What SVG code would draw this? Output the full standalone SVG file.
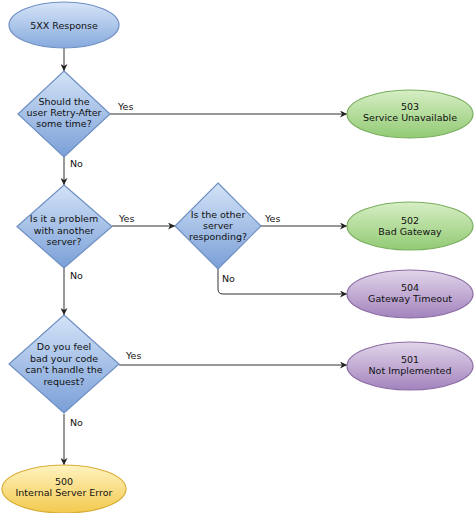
<svg xmlns="http://www.w3.org/2000/svg" width="474" height="513" viewBox="0 0 474 513">
<defs>
<linearGradient id="gBlue" x1="0" y1="0" x2="0" y2="1"><stop offset="0" stop-color="#d6e5f8"/><stop offset="1" stop-color="#86a9dc"/></linearGradient>
<linearGradient id="gDia" x1="0" y1="0" x2="0" y2="1"><stop offset="0" stop-color="#d3e3f7"/><stop offset="1" stop-color="#7a9fd7"/></linearGradient>
<linearGradient id="gGreen" x1="0" y1="0" x2="0" y2="1"><stop offset="0" stop-color="#d6eec4"/><stop offset="1" stop-color="#92ca74"/></linearGradient>
<linearGradient id="gPurple" x1="0" y1="0" x2="0" y2="1"><stop offset="0" stop-color="#e2d5ea"/><stop offset="1" stop-color="#a283bd"/></linearGradient>
<linearGradient id="gYellow" x1="0" y1="0" x2="0" y2="1"><stop offset="0" stop-color="#fff3c0"/><stop offset="1" stop-color="#f3c94e"/></linearGradient>
<marker id="arr" viewBox="0 0 10 10" refX="10" refY="5" markerWidth="7" markerHeight="7" markerUnits="userSpaceOnUse" orient="auto"><path d="M0,0 L10,5 L0,10 L3,5 z" fill="#222"/></marker>
<style>
text{font-family:"DejaVu Sans","Noto Sans",sans-serif;font-size:9.5px;fill:#111;text-anchor:middle}
.lbl{text-anchor:start}
.blue{fill:url(#gBlue);stroke:#6f8fc3;stroke-width:1.2}
.dia{fill:url(#gDia);stroke:#6f8fc3;stroke-width:1.2}
.green{fill:url(#gGreen);stroke:#7bae5f;stroke-width:1.2}
.purple{fill:url(#gPurple);stroke:#8c6ca3;stroke-width:1.2}
.yellow{fill:url(#gYellow);stroke:#d8ae38;stroke-width:1.2}
.edge{fill:none;stroke:#333;stroke-width:1;marker-end:url(#arr)}
</style>
</defs>

<g id="connectors">
<path class="edge" d="M64,48 L64,71"/>
<path class="edge" d="M64,157 L64,185"/>
<path class="edge" d="M64,268 L64,315"/>
<path class="edge" d="M64,414 L64,465"/>
<path class="edge" d="M110,114 L347,114"/>
<path class="edge" d="M112,226 L175,226"/>
<path class="edge" d="M261,226 L347,226"/>
<path class="edge" d="M218,269 L218,289 Q218,294 223,294 L347,294"/>
<path class="edge" d="M119,365 L347,365"/>
<text class="lbl" x="118" y="110">Yes</text>
<text class="lbl" x="70" y="167">No</text>
<text class="lbl" x="119" y="222">Yes</text>
<text class="lbl" x="70" y="279">No</text>
<text class="lbl" x="265" y="222">Yes</text>
<text class="lbl" x="222" y="282">No</text>
<text class="lbl" x="126" y="359">Yes</text>
<text class="lbl" x="70" y="426">No</text>
</g>

<g id="start">
<ellipse class="blue" cx="64" cy="25" rx="55" ry="23"/>
<text x="64" y="28.5">5XX Response</text>
</g>

<g id="q-retry">
<polygon class="dia" points="64,71 110,114 64,157 18,114"/>
<text x="64" y="105">Should the</text>
<text x="64" y="116">user Retry-After</text>
<text x="64" y="127">some time?</text>
</g>

<g id="q-other">
<polygon class="dia" points="64,185 112,226.5 64,268 17,226.5"/>
<text x="64" y="222">Is it a problem</text>
<text x="64" y="233.5">with another</text>
<text x="64" y="245">server?</text>
</g>

<g id="q-responding">
<polygon class="dia" points="218,183 261,226 218,269 175,226"/>
<text x="218" y="218">Is the other</text>
<text x="218" y="229">server</text>
<text x="218" y="240">responding?</text>
</g>

<g id="q-code">
<polygon class="dia" points="64,315 119,364 64,413 9,364"/>
<text x="64" y="350">Do you feel</text>
<text x="64" y="361.5">bad your code</text>
<text x="64" y="373">can't handle the</text>
<text x="64" y="384.5">request?</text>
</g>

<g id="n503">
<ellipse class="green" cx="410" cy="114" rx="63" ry="24"/>
<text x="410" y="110">503</text>
<text x="410" y="121">Service Unavailable</text>
</g>

<g id="n502">
<ellipse class="green" cx="410" cy="226" rx="63" ry="24"/>
<text x="410" y="224">502</text>
<text x="410" y="235">Bad Gateway</text>
</g>

<g id="n504">
<ellipse class="purple" cx="410" cy="294" rx="63" ry="24"/>
<text x="410" y="291">504</text>
<text x="410" y="302">Gateway Timeout</text>
</g>

<g id="n501">
<ellipse class="purple" cx="410" cy="366" rx="63" ry="24"/>
<text x="410" y="363">501</text>
<text x="410" y="374">Not Implemented</text>
</g>

<g id="n500">
<ellipse class="yellow" cx="64" cy="489" rx="62" ry="24"/>
<text x="64" y="485">500</text>
<text x="64" y="496">Internal Server Error</text>
</g>
</svg>
